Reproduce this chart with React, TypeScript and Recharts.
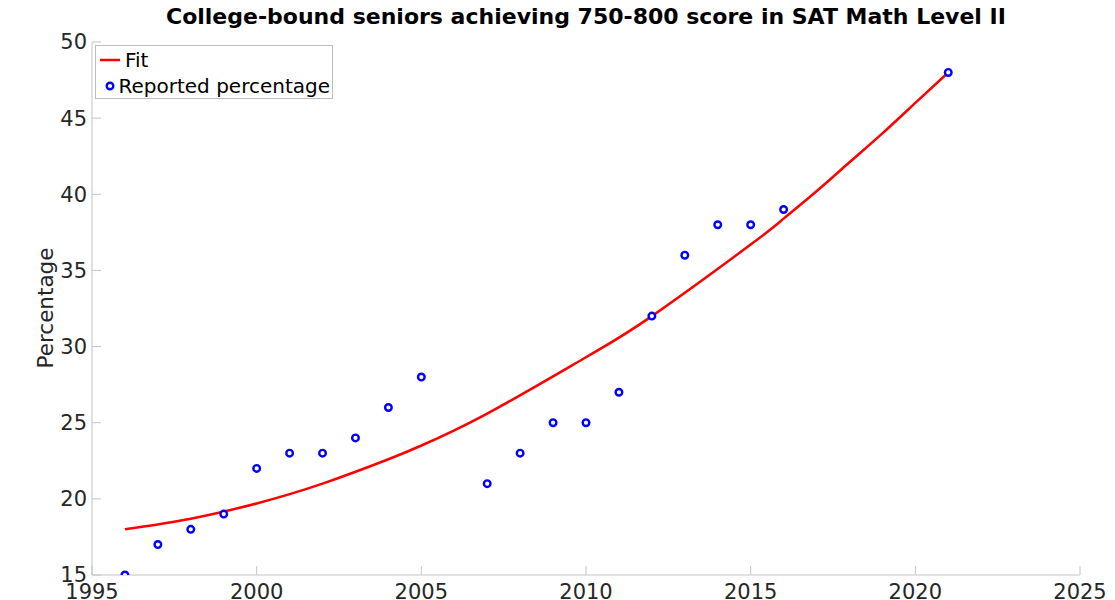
import { ComposedChart, Line, Scatter, XAxis, YAxis } from 'recharts'

const years = [1996, 1997, 1998, 1999, 2000, 2001, 2002, 2003, 2004, 2005, 2007, 2008, 2009, 2010, 2011, 2012, 2013, 2014, 2015, 2016, 2021]
const reported = [15, 17, 18, 19, 22, 23, 23, 24, 26, 28, 21, 23, 25, 25, 27, 32, 36, 38, 38, 39, 48]

// fit curve
const fitYears = [1996, 1998, 2000, 2002, 2004, 2005, 2007, 2010, 2012, 2015, 2016, 2017, 2018, 2019, 2020, 2021]
const fitValues = [18.0, 18.7, 19.7, 21.0, 22.6, 23.5, 25.6, 29.3, 32.0, 36.7, 38.4, 40.2, 42.1, 44.0, 46.0, 48.0]

const xTicks = [1995, 2000, 2005, 2010, 2015, 2020, 2025]
const yTicks = [15, 20, 25, 30, 35, 40, 45, 50]

const points = years.map((year, i) => ({ year, pct: reported[i] }))
const fit = fitYears.map((year, i) => ({ year, pct: fitValues[i] }))

const font = 'DejaVu Sans, sans-serif'
const frame = '#c4c4c4'
const tickText = { fontSize: 21, fill: '#262626', fontFamily: font }

const Marker = (props: any) => (
  <circle cx={props.cx} cy={props.cy} r={3.3} fill="#fff" stroke="#0000ff" strokeWidth={2.4} />
)

const LegendBox = () => (
  <div style={{ position: 'absolute', left: 87, top: 37, boxSizing: 'border-box', width: 238, height: 54, border: '1px solid #bdbdbd', background: '#fff', padding: '1px 2px', fontFamily: font, fontSize: 20, color: '#000', whiteSpace: 'nowrap' }}>
    <div style={{ display: 'flex', alignItems: 'center', height: 26 }}>
      <svg width={24} height={10}><line x1={2} y1={5} x2={22} y2={5} stroke="#ff0000" strokeWidth={2.5} /></svg>
      <span style={{ marginLeft: 3 }}>Fit</span>
    </div>
    <div style={{ display: 'flex', alignItems: 'center', height: 26 }}>
      <svg width={24} height={12}><circle cx={12} cy={6} r={3.3} fill="#fff" stroke="#0000ff" strokeWidth={2.4} /></svg>
      <span style={{ marginLeft: 3 }}>Reported percentage</span>
    </div>
  </div>
)

export default function App() {
  return (
    <div style={{ position: 'relative', width: 1107, height: 592, fontFamily: font }}>
      <ComposedChart width={1107} height={592} margin={{ top: 34, right: 35, bottom: 0, left: 0 }} style={{ position: 'absolute', left: 0, top: 0 }}>
        <XAxis xAxisId="b" dataKey="year" type="number" domain={[1995, 2025]} ticks={xTicks} allowDataOverflow
          orientation="bottom" height={25} axisLine={{ stroke: frame }} tickLine={{ stroke: frame }} tickSize={-9} tickMargin={18} tick={tickText} />
        <XAxis xAxisId="t" dataKey="year" type="number" domain={[1995, 2025]} ticks={xTicks} allowDataOverflow
          orientation="top" height={0} axisLine={{ stroke: frame }} tickLine={{ stroke: frame }} tickSize={-9} tick={false} />
        <YAxis yAxisId="l" type="number" domain={[15, 50]} ticks={yTicks} allowDataOverflow
          orientation="left" width={84} axisLine={{ stroke: frame }} tickLine={{ stroke: frame }} tickSize={-9} tickMargin={14} tick={tickText} />
        <YAxis yAxisId="r" type="number" domain={[15, 50]} ticks={yTicks} allowDataOverflow
          orientation="right" width={0} axisLine={{ stroke: frame }} tickLine={{ stroke: frame }} tickSize={-9} tick={false} />
        <Line xAxisId="b" yAxisId="l" data={fit} dataKey="pct" name="Fit" type="natural" stroke="#ff0000" strokeWidth={2.5} dot={false} isAnimationActive={false} />
        <Scatter xAxisId="b" yAxisId="l" data={points} dataKey="pct" name="Reported percentage" shape={Marker} isAnimationActive={false} />
      </ComposedChart>
      <div style={{ position: 'absolute', left: 84, width: 988, top: -4, textAlign: 'center', fontWeight: 'bold', fontSize: 22, color: '#000' }}>
        College-bound seniors achieving 750-800 score in SAT Math Level II
      </div>
      <div style={{ position: 'absolute', left: 37, top: 300, transform: 'translate(-50%, -50%) rotate(-90deg)', fontSize: 21.5, color: '#262626', whiteSpace: 'nowrap' }}>
        Percentage
      </div>
      <LegendBox />
    </div>
  )
}
